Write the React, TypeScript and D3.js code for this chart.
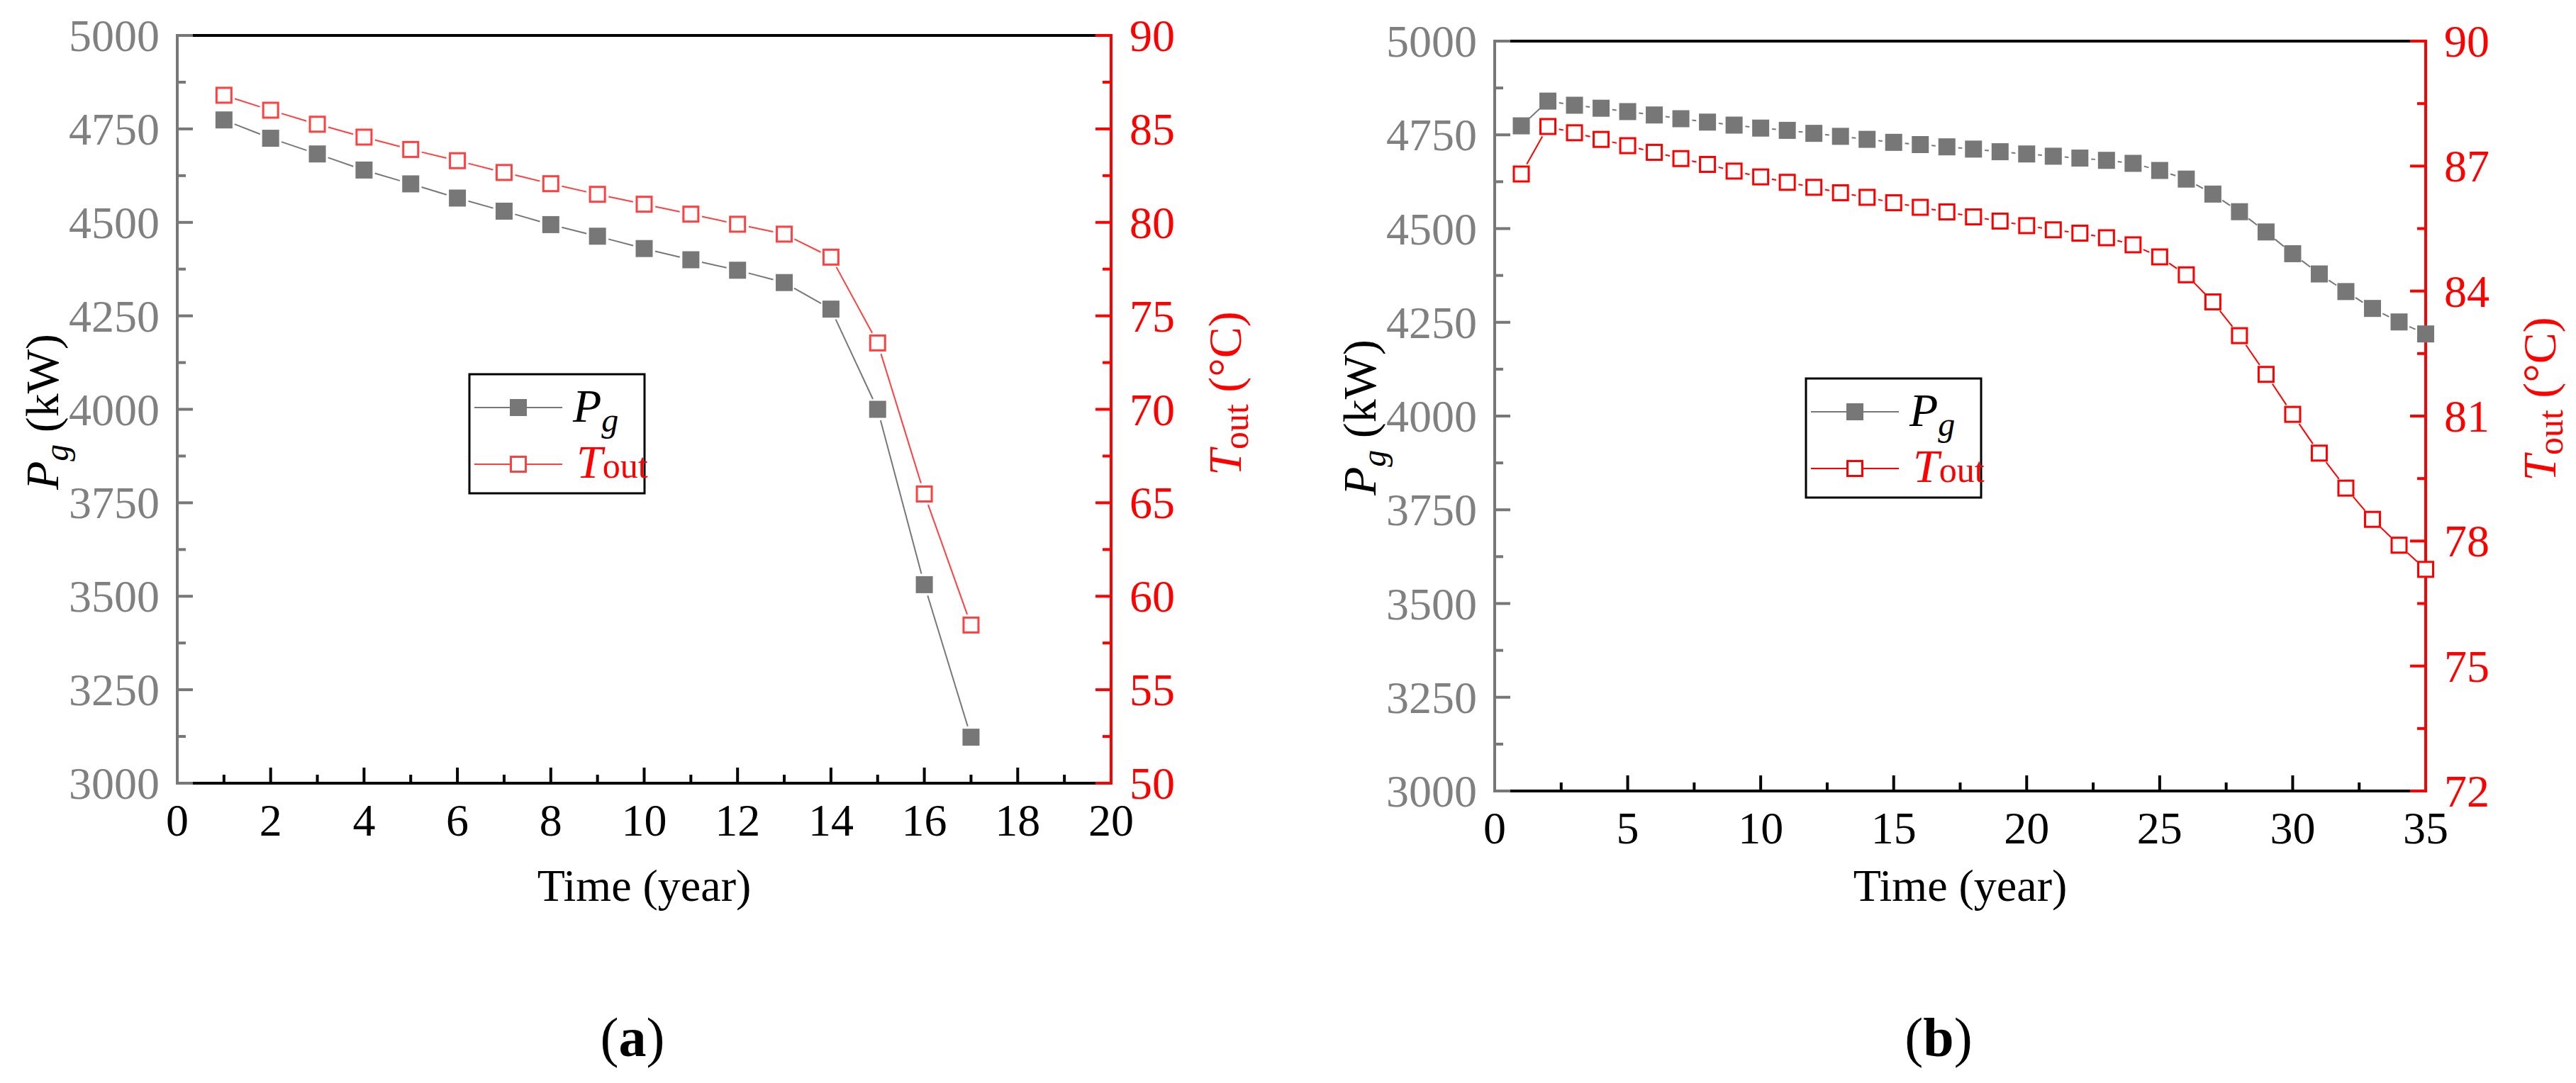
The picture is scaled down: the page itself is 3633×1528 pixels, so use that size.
import React from "react";
import * as d3 from "d3";

// ---- data ----
const yearsA = [1, 2, 3, 4, 5, 6, 7, 8, 9, 10, 11, 12, 13, 14, 15, 16, 17];
const pgA = [4774, 4725, 4683, 4640, 4603, 4565, 4530, 4494, 4463, 4430, 4400, 4372, 4339, 4268, 4000, 3531, 3123];
const toutA = [86.8, 86.0, 85.25, 84.56, 83.9, 83.3, 82.67, 82.07, 81.5, 80.97, 80.44, 79.9, 79.37, 78.14, 73.55, 65.47, 58.46];

const yearsB = [
  1, 2, 3, 4, 5, 6, 7, 8, 9, 10, 11, 12, 13, 14, 15, 16, 17, 18, 19, 20, 21, 22, 23, 24, 25, 26, 27, 28, 29, 30,
  31, 32, 33, 34, 35,
];
const pgB = [
  4774, 4840, 4829, 4821, 4812, 4803, 4793, 4784, 4776, 4768, 4762, 4754, 4746, 4738, 4730, 4724, 4718, 4712,
  4705, 4699, 4693, 4688, 4682, 4674, 4655, 4632, 4592, 4545, 4491, 4433, 4379, 4332, 4287, 4251, 4219,
];
const toutB = [
  86.81, 87.95, 87.8, 87.64, 87.49, 87.33, 87.18, 87.04, 86.88, 86.74, 86.61, 86.49, 86.36, 86.25, 86.12, 86.01,
  85.9, 85.78, 85.68, 85.57, 85.47, 85.39, 85.28, 85.11, 84.82, 84.39, 83.74, 82.93, 82.0, 81.04, 80.11, 79.27,
  78.52, 77.9, 77.32,
];

// tick labels
const xTicksA = [0, 2, 4, 6, 8, 10, 12, 14, 16, 18, 20];
const xTicksB = [0, 5, 10, 15, 20, 25, 30, 35];
const pgTicks = [3000, 3250, 3500, 3750, 4000, 4250, 4500, 4750, 5000];
const toutTicksA = [50, 55, 60, 65, 70, 75, 80, 85, 90];
const toutTicksB = [72, 75, 78, 81, 84, 87, 90];

const FONT = "'Liberation Serif', 'Times New Roman', 'DejaVu Serif', serif";
const GRAY = "#777777";
const AXIS_RED = "#ff0000";
const MARK = 24; // marker size
const MAJOR = 22;
const MINOR = 12;

// midpoints between major ticks -> minor ticks
const minors = (t: number[]) => t.slice(1).map((v, i) => (v + t[i]) / 2);

// line pieces between markers, with a small gap at each marker (Origin style)
function pieces(pts: [number, number][], gap: number) {
  const out: number[][] = [];
  for (let i = 1; i < pts.length; i++) {
    const [x1, y1] = pts[i - 1];
    const [x2, y2] = pts[i];
    const d = Math.hypot(x2 - x1, y2 - y1);
    if (d <= gap * 2) continue;
    const ux = (x2 - x1) / d;
    const uy = (y2 - y1) / d;
    out.push([x1 + ux * gap, y1 + uy * gap, x2 - ux * gap, y2 - uy * gap]);
  }
  return out;
}

type PanelProps = {
  left: number;
  right: number;
  top: number;
  bottom: number;
  xTicks: number[];
  yRightTicks: number[];
  years: number[];
  pg: number[];
  tout: number[];
  red: string;
  legendDx: number;
  legendDy: number;
  label: string;
  labelX: number;
};

const Panel: React.FC<PanelProps> = ({
  left,
  right,
  top,
  bottom,
  xTicks,
  yRightTicks,
  years,
  pg,
  tout,
  red,
  legendDx,
  legendDy,
  label,
  labelX,
}) => {
  const x = d3.scaleLinear().domain([xTicks[0], xTicks[xTicks.length - 1]]).range([left, right]);
  const yL = d3.scaleLinear().domain([pgTicks[0], pgTicks[pgTicks.length - 1]]).range([bottom, top]);
  const yR = d3
    .scaleLinear()
    .domain([yRightTicks[0], yRightTicks[yRightTicks.length - 1]])
    .range([bottom, top]);

  const pgPts: [number, number][] = years.map((t, i) => [x(t), yL(pg[i])]);
  const toPts: [number, number][] = years.map((t, i) => [x(t), yR(tout[i])]);

  const lx = left + legendDx;
  const ly = top + legendDy;
  const cx = (left + right) / 2;

  return (
    <g>
      {/* top and bottom frame */}
      <line x1={left} x2={right} y1={top} y2={top} stroke="#000" strokeWidth={4} />
      <line x1={left} x2={right} y1={bottom} y2={bottom} stroke="#000" strokeWidth={4} />

      {/* bottom axis ticks */}
      {xTicks.map((t) => (
        <line key={"xt" + t} x1={x(t)} x2={x(t)} y1={bottom} y2={bottom - MAJOR} stroke="#000" strokeWidth={4} />
      ))}
      {minors(xTicks).map((t) => (
        <line key={"xm" + t} x1={x(t)} x2={x(t)} y1={bottom} y2={bottom - MINOR} stroke="#000" strokeWidth={4} />
      ))}
      {xTicks.map((t) => (
        <text
          key={"xl" + t}
          x={x(t)}
          y={bottom + 74}
          fontFamily={FONT}
          fontSize={64}
          textAnchor="middle"
          fill="#000"
        >
          {t}
        </text>
      ))}

      {/* left axis (gray) */}
      <line x1={left} x2={left} y1={top - 2} y2={bottom + 2} stroke={GRAY} strokeWidth={4} />
      {pgTicks.map((t) => (
        <line key={"lt" + t} x1={left} x2={left + MAJOR} y1={yL(t)} y2={yL(t)} stroke={GRAY} strokeWidth={4} />
      ))}
      {minors(pgTicks).map((t) => (
        <line key={"lm" + t} x1={left} x2={left + MINOR} y1={yL(t)} y2={yL(t)} stroke={GRAY} strokeWidth={4} />
      ))}
      {pgTicks.map((t) => (
        <text
          key={"ll" + t}
          x={left - 25}
          y={yL(t) + 22}
          fontFamily={FONT}
          fontSize={64}
          textAnchor="end"
          fill="#808080"
        >
          {t}
        </text>
      ))}

      {/* right axis (red) */}
      <line x1={right} x2={right} y1={top - 2} y2={bottom + 2} stroke={AXIS_RED} strokeWidth={4} />
      {yRightTicks.map((t) => (
        <line key={"rt" + t} x1={right} x2={right - MAJOR} y1={yR(t)} y2={yR(t)} stroke={AXIS_RED} strokeWidth={4} />
      ))}
      {minors(yRightTicks).map((t) => (
        <line key={"rm" + t} x1={right} x2={right - MINOR} y1={yR(t)} y2={yR(t)} stroke={AXIS_RED} strokeWidth={4} />
      ))}
      {yRightTicks.map((t) => (
        <text
          key={"rl" + t}
          x={right + 26}
          y={yR(t) + 22}
          fontFamily={FONT}
          fontSize={64}
          textAnchor="start"
          fill={AXIS_RED}
        >
          {t}
        </text>
      ))}

      {/* axis titles */}
      <text x={cx} y={1271} fontFamily={FONT} fontSize={64} textAnchor="middle" fill="#000">
        Time (year)
      </text>
      <text
        transform={`translate(${left - 168},${top + 531}) rotate(-90)`}
        fontFamily={FONT}
        fontSize={66}
        textAnchor="middle"
        fill="#000"
      >
        <tspan fontStyle="italic">P</tspan>
        <tspan fontStyle="italic" fontSize={48} dy={14}>
          g
        </tspan>
        <tspan dy={-14}> (kW)</tspan>
      </text>
      <text
        transform={`translate(${right + 183},${top + 505}) rotate(-90)`}
        fontFamily={FONT}
        fontSize={66}
        textAnchor="middle"
        fill={AXIS_RED}
      >
        <tspan fontStyle="italic">T</tspan>
        <tspan fontSize={50} dy={10}>
          out
        </tspan>
        <tspan dy={-10}> (°C)</tspan>
      </text>

      {/* series lines */}
      {pieces(pgPts, 16).map((s, i) => (
        <line key={"pl" + i} x1={s[0]} y1={s[1]} x2={s[2]} y2={s[3]} stroke={GRAY} strokeWidth={2} />
      ))}
      {pieces(toPts, 16).map((s, i) => (
        <line key={"tl" + i} x1={s[0]} y1={s[1]} x2={s[2]} y2={s[3]} stroke={red} strokeWidth={2} />
      ))}

      {/* markers */}
      {pgPts.map(([px, py], i) => (
        <rect key={"pm" + i} x={px - MARK / 2} y={py - MARK / 2} width={MARK} height={MARK} fill={GRAY} />
      ))}
      {toPts.map(([px, py], i) => (
        <rect
          key={"tm" + i}
          x={px - MARK / 2 + 1.5}
          y={py - MARK / 2 + 1.5}
          width={MARK - 3}
          height={MARK - 3}
          fill="#fff"
          stroke={red}
          strokeWidth={3}
        />
      ))}

      {/* legend */}
      <rect x={lx} y={ly} width={247} height={168} fill="#fff" stroke="#000" strokeWidth={3} />
      <line x1={lx + 7} x2={lx + 66} y1={ly + 47} y2={ly + 47} stroke={GRAY} strokeWidth={2} />
      <line x1={lx + 72} x2={lx + 131} y1={ly + 47} y2={ly + 47} stroke={GRAY} strokeWidth={2} />
      <rect x={lx + 69 - MARK / 2} y={ly + 47 - MARK / 2} width={MARK} height={MARK} fill={GRAY} />
      <text x={lx + 146} y={ly + 67} fontFamily={FONT} fontSize={66} fill="#000">
        <tspan fontStyle="italic">P</tspan>
        <tspan fontStyle="italic" fontSize={48} dy={14}>
          g
        </tspan>
      </text>
      <line x1={lx + 7} x2={lx + 66} y1={ly + 127} y2={ly + 127} stroke={red} strokeWidth={2} />
      <line x1={lx + 72} x2={lx + 131} y1={ly + 127} y2={ly + 127} stroke={red} strokeWidth={2} />
      <rect
        x={lx + 69 - MARK / 2 + 1.5}
        y={ly + 127 - MARK / 2 + 1.5}
        width={MARK - 3}
        height={MARK - 3}
        fill="#fff"
        stroke={red}
        strokeWidth={3}
      />
      <text x={lx + 151} y={ly + 146} fontFamily={FONT} fontSize={66} fill={AXIS_RED}>
        <tspan fontStyle="italic">T</tspan>
        <tspan fontSize={50}>out</tspan>
      </text>

      {/* panel label */}
      <text x={labelX} y={1490} fontFamily={FONT} fontSize={78} textAnchor="middle" fill="#000">
        (<tspan fontWeight="bold">{label}</tspan>)
      </text>
    </g>
  );
};

export default function App() {
  return (
    <svg
      width={3633}
      height={1528}
      viewBox="0 0 3633 1528"
      style={{ position: "absolute", left: 0, top: 0, background: "#fff" }}
    >
      <rect width={3633} height={1528} fill="#fff" />
      <Panel
        left={250}
        right={1567}
        top={50}
        bottom={1105}
        xTicks={xTicksA}
        yRightTicks={toutTicksA}
        years={yearsA}
        pg={pgA}
        tout={toutA}
        red="#ff4040"
        legendDx={412}
        legendDy={478}
        label="a"
        labelX={892}
      />
      <Panel
        left={2108}
        right={3421}
        top={58}
        bottom={1116}
        xTicks={xTicksB}
        yRightTicks={toutTicksB}
        years={yearsB}
        pg={pgB}
        tout={toutB}
        red="#ff0000"
        legendDx={439}
        legendDy={476}
        label="b"
        labelX={2734}
      />
    </svg>
  );
}
